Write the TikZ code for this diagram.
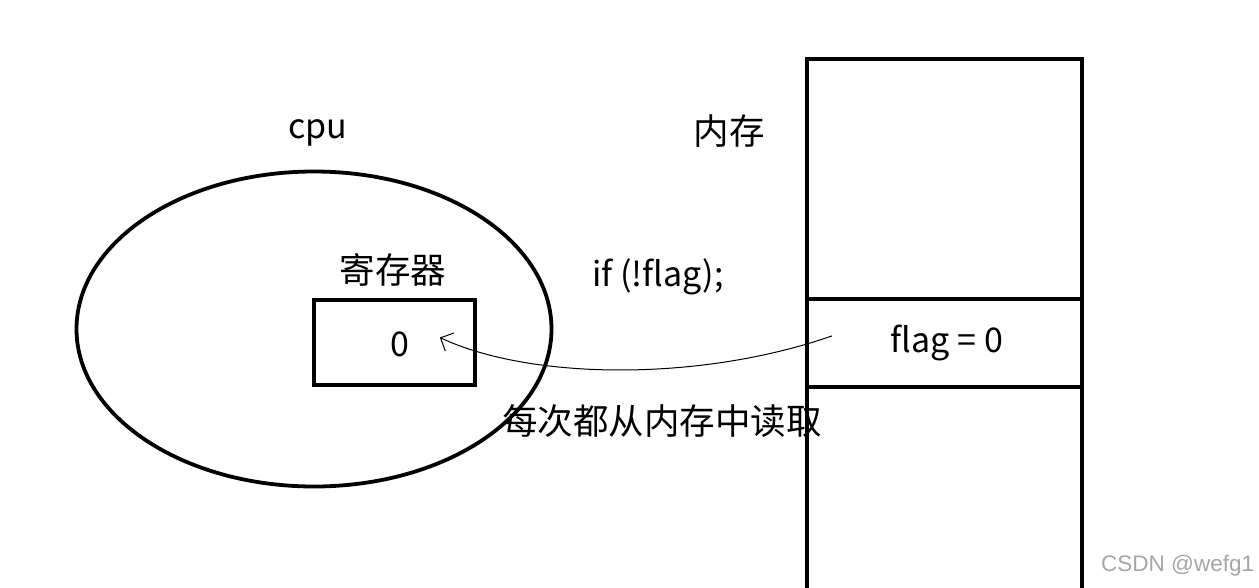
\documentclass[tikz,border=0pt]{standalone}
\usepackage{fontspec}
\setmainfont{Noto Sans CJK SC}
\newfontfamily\wmfont{Liberation Sans}
\usetikzlibrary{arrows.meta}
\begin{document}
\begin{tikzpicture}[x=1pt,y=-1pt,
  thick line/.style={line width=3.8pt},
  lbl/.style={font=\fontsize{35.5}{40}\selectfont, inner sep=0pt},
  latin/.style={font=\fontsize{34}{38}\selectfont, inner sep=0pt},
  cell/.style={draw, line width=3.8pt, minimum width=275pt, inner sep=0pt, anchor=north west},
]
\useasboundingbox (0,0) rectangle (1259,587);
\clip (0,0) rectangle (1259,587);
% CPU ellipse
\draw[thick line] (314,329) ellipse [x radius=237.5, y radius=157.5];
\node[latin] (cpu) at (318,133) {cpu};
\node[lbl] (regname) at (393,270) {寄存器};
\node[draw, line width=3.8pt, minimum width=161pt, minimum height=85pt, inner sep=0pt] (reg) at (394.5,342.5) {};
\node[latin] (zero) at (400,344) {0};
% memory
\node[lbl] (memname) at (729,131) {内存};
\node[cell, minimum height=240pt] (memtop) at (805,57) {};
\node[cell, minimum height=88pt] (memflag) at (805,297) {};
\node[cell, minimum height=240pt] (membot) at (805,385) {};
\node[latin] (flag) at (947,343) {flag = 0};
\node[latin] (ifflag) at (658,277) {if (!flag);};
\node[lbl] (read) at (662,421) {每次都从内存中读取};
% arrow
\coordinate (src) at ([xshift=27pt, yshift=7pt]memflag.west);
\coordinate (dst) at ([xshift=-37pt, yshift=5pt]reg.east);
\draw[line width=1pt, -{Straight Barb[length=10pt, width=20pt, line width=1pt]}]
  (src) .. controls (700,382) and (530,380) .. (dst);
% watermark
\node[font=\wmfont\fontsize{22.5}{25}\selectfont, text=black!35, anchor=west, inner sep=0pt] (wm) at (1101,566) {CSDN @wefg1};
\end{tikzpicture}
\end{document}
